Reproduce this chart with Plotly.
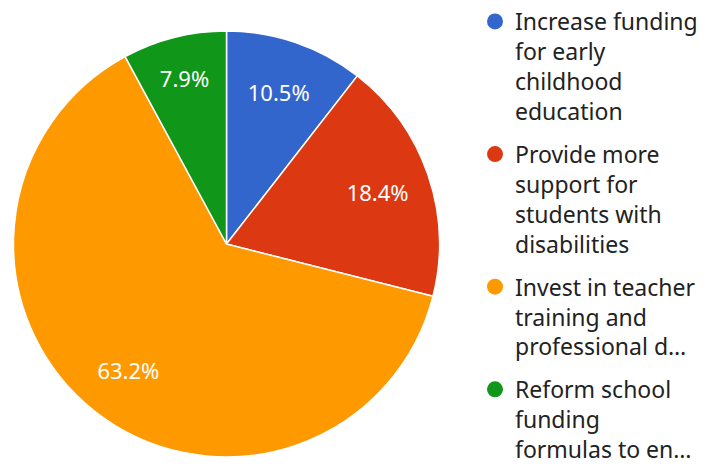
import plotly.graph_objects as go

labels = [
    "Increase funding<br>for early<br>childhood<br>education",
    "Provide more<br>support for<br>students with<br>disabilities",
    "Invest in teacher<br>training and<br>professional d…",
    "Reform school<br>funding<br>formulas to en…",
]
values = [4, 7, 24, 3]
colors = ["#3366CC", "#DC3912", "#FF9900", "#109618"]

W, H = 710, 472
dom = dict(x=[13 / W, 440 / W], y=[1 - 457 / H, 1 - 31 / H])
fig = go.Figure()
fig.add_trace(go.Pie(
    labels=labels, values=values, sort=False, direction="clockwise", rotation=0,
    marker=dict(colors=colors, line=dict(color="white", width=1.5)),
    textinfo="none", showlegend=False, hoverinfo="label+percent", domain=dom,
))
# transparent ring overlay that carries the percentage labels (~0.75 R)
fig.add_trace(go.Pie(
    labels=labels, values=values, sort=False, direction="clockwise", rotation=0,
    hole=0.5, marker=dict(colors=["rgba(0,0,0,0)"] * 4, line=dict(width=0)),
    texttemplate="%{percent:.1%}", textposition="inside",
    insidetextorientation="horizontal",
    textfont=dict(color="white", size=22, family="Noto Sans"),
    showlegend=False, hoverinfo="skip", domain=dom,
))
for i, (lab, col) in enumerate(zip(labels, colors)):
    fig.add_trace(go.Scatter(x=[None], y=[None], mode="markers", name=lab,
                             legendgroup=f"g{i}",
                             marker=dict(symbol="circle", size=16, color=col)))

fig.update_layout(
    width=W, height=H, margin=dict(l=0, r=0, t=0, b=0),
    paper_bgcolor="white", plot_bgcolor="white",
    xaxis=dict(visible=False), yaxis=dict(visible=False),
    font=dict(family="Noto Sans", color="#222222"),
    legend=dict(x=475 / W, xanchor="left", y=1.0, yanchor="top",
                font=dict(size=23, color="#222222"), itemwidth=30,
                valign="top", tracegroupgap=10, traceorder="grouped",
                bgcolor="rgba(0,0,0,0)"),
)
fig.write_html("out.html", config={"displayModeBar": False},
               post_script="document.body.style.margin='0';document.body.style.padding='0';")
